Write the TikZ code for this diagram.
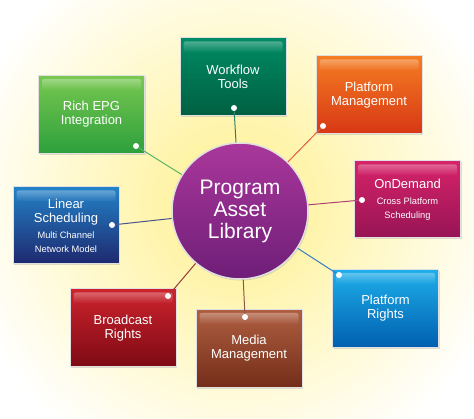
\documentclass[tikz,border=0pt]{standalone}
\usepackage{fontspec}
\setmainfont{Liberation Sans}
\usetikzlibrary{shadows,fadings}

\definecolor{wfTop}{RGB}{0,140,100}   \definecolor{wfBot}{RGB}{0,95,65}
\definecolor{pmTop}{RGB}{245,125,35}  \definecolor{pmBot}{RGB}{215,55,20}
\definecolor{epgTop}{RGB}{120,200,80} \definecolor{epgBot}{RGB}{45,160,60}
\definecolor{odTop}{RGB}{215,35,105}  \definecolor{odBot}{RGB}{150,20,85}
\definecolor{lsTop}{RGB}{35,130,200}  \definecolor{lsBot}{RGB}{30,40,110}
\definecolor{brTop}{RGB}{205,35,45}   \definecolor{brBot}{RGB}{125,10,20}
\definecolor{mmTop}{RGB}{175,95,65}   \definecolor{mmBot}{RGB}{115,45,25}
\definecolor{prTop}{RGB}{30,175,235}  \definecolor{prBot}{RGB}{0,95,175}
\definecolor{palTop}{RGB}{170,55,155} \definecolor{palBot}{RGB}{110,30,120}
\definecolor{glow}{RGB}{255,240,140}

\tikzset{
  box/.style={rectangle, draw=black!12, line width=1pt,
    minimum width=106pt, minimum height=78pt, align=center, text=white,
    top color=#1Top, bottom color=#1Bot,
    font=\fontsize{13}{14}\selectfont,
    drop shadow={opacity=0.25, shadow xshift=1pt, shadow yshift=-1.5pt}},
  dot/.style={circle, fill=white, inner sep=0pt, minimum size=6pt},
  link/.style={line width=1pt, #1Bot!80!white}
}
\newcommand{\gloss}[1]{%
  \fill[white, fill opacity=0.3, path fading=south, rounded corners=2pt]
    ([shift={(4pt,-4pt)}]#1.north west) rectangle ([shift={(-4pt,-15pt)}]#1.north east);}
\newcommand{\sub}{\fontsize{9.3}{11}\selectfont}

\begin{document}
\begin{tikzpicture}[x=1pt, y=-1pt]
  \useasboundingbox (0,0) rectangle (474,419);
  \shade[inner color=glow, outer color=white] (-45,-75) rectangle (515,485);

  \node[box=wf] (wf) at (233,77) {Workflow\\Tools};
  \node[box=pm] (pm) at (369,95) {Platform\\Management};
  \node[box=epg] (epg) at (91.5,114.5) {Rich EPG\\Integration};
  \node[box=od, minimum height=77pt] (od) at (407.5,199.5)
    {OnDemand\\[2pt]\sub Cross Platform\\\sub Scheduling};
  \node[box=ls, minimum height=77pt] (ls) at (66,225.5)
    {Linear\\Scheduling\\[2pt]\sub Multi Channel\\\sub Network Model};
  \node[box=br] (br) at (123,328) {Broadcast\\Rights};
  \node[box=mm] (mm) at (249,348.5) {Media\\Management};
  \node[box=pr] (pr) at (385.5,308.5) {Platform\\Rights};
  \foreach \b in {wf,pm,epg,od,ls,br,mm,pr} {\gloss{\b}}

  \node[circle, draw=black!12, line width=1.5pt, minimum size=136pt,
    top color=palTop, bottom color=palBot, text=white, align=center,
    font=\fontsize{21}{22}\selectfont,
    drop shadow={opacity=0.25, shadow xshift=1pt, shadow yshift=-1.5pt}]
    (pal) at (240,211) {Program\\Asset\\Library};

  \node[dot] (wfd) at (234,108) {};
  \node[dot] (pmd) at (323,126) {};
  \node[dot] (epgd) at (136,146) {};
  \node[dot] (odd) at (362,200) {};
  \node[dot] (lsd) at (112,225) {};
  \node[dot] (brd) at (168,296) {};
  \node[dot] (mmd) at (245,317) {};
  \node[dot] (prd) at (339,275) {};

  \foreach \b in {wf,pm,epg,od,ls,br,mm,pr} {\draw[link=\b] (\b d) -- (pal);}
\end{tikzpicture}
\end{document}
